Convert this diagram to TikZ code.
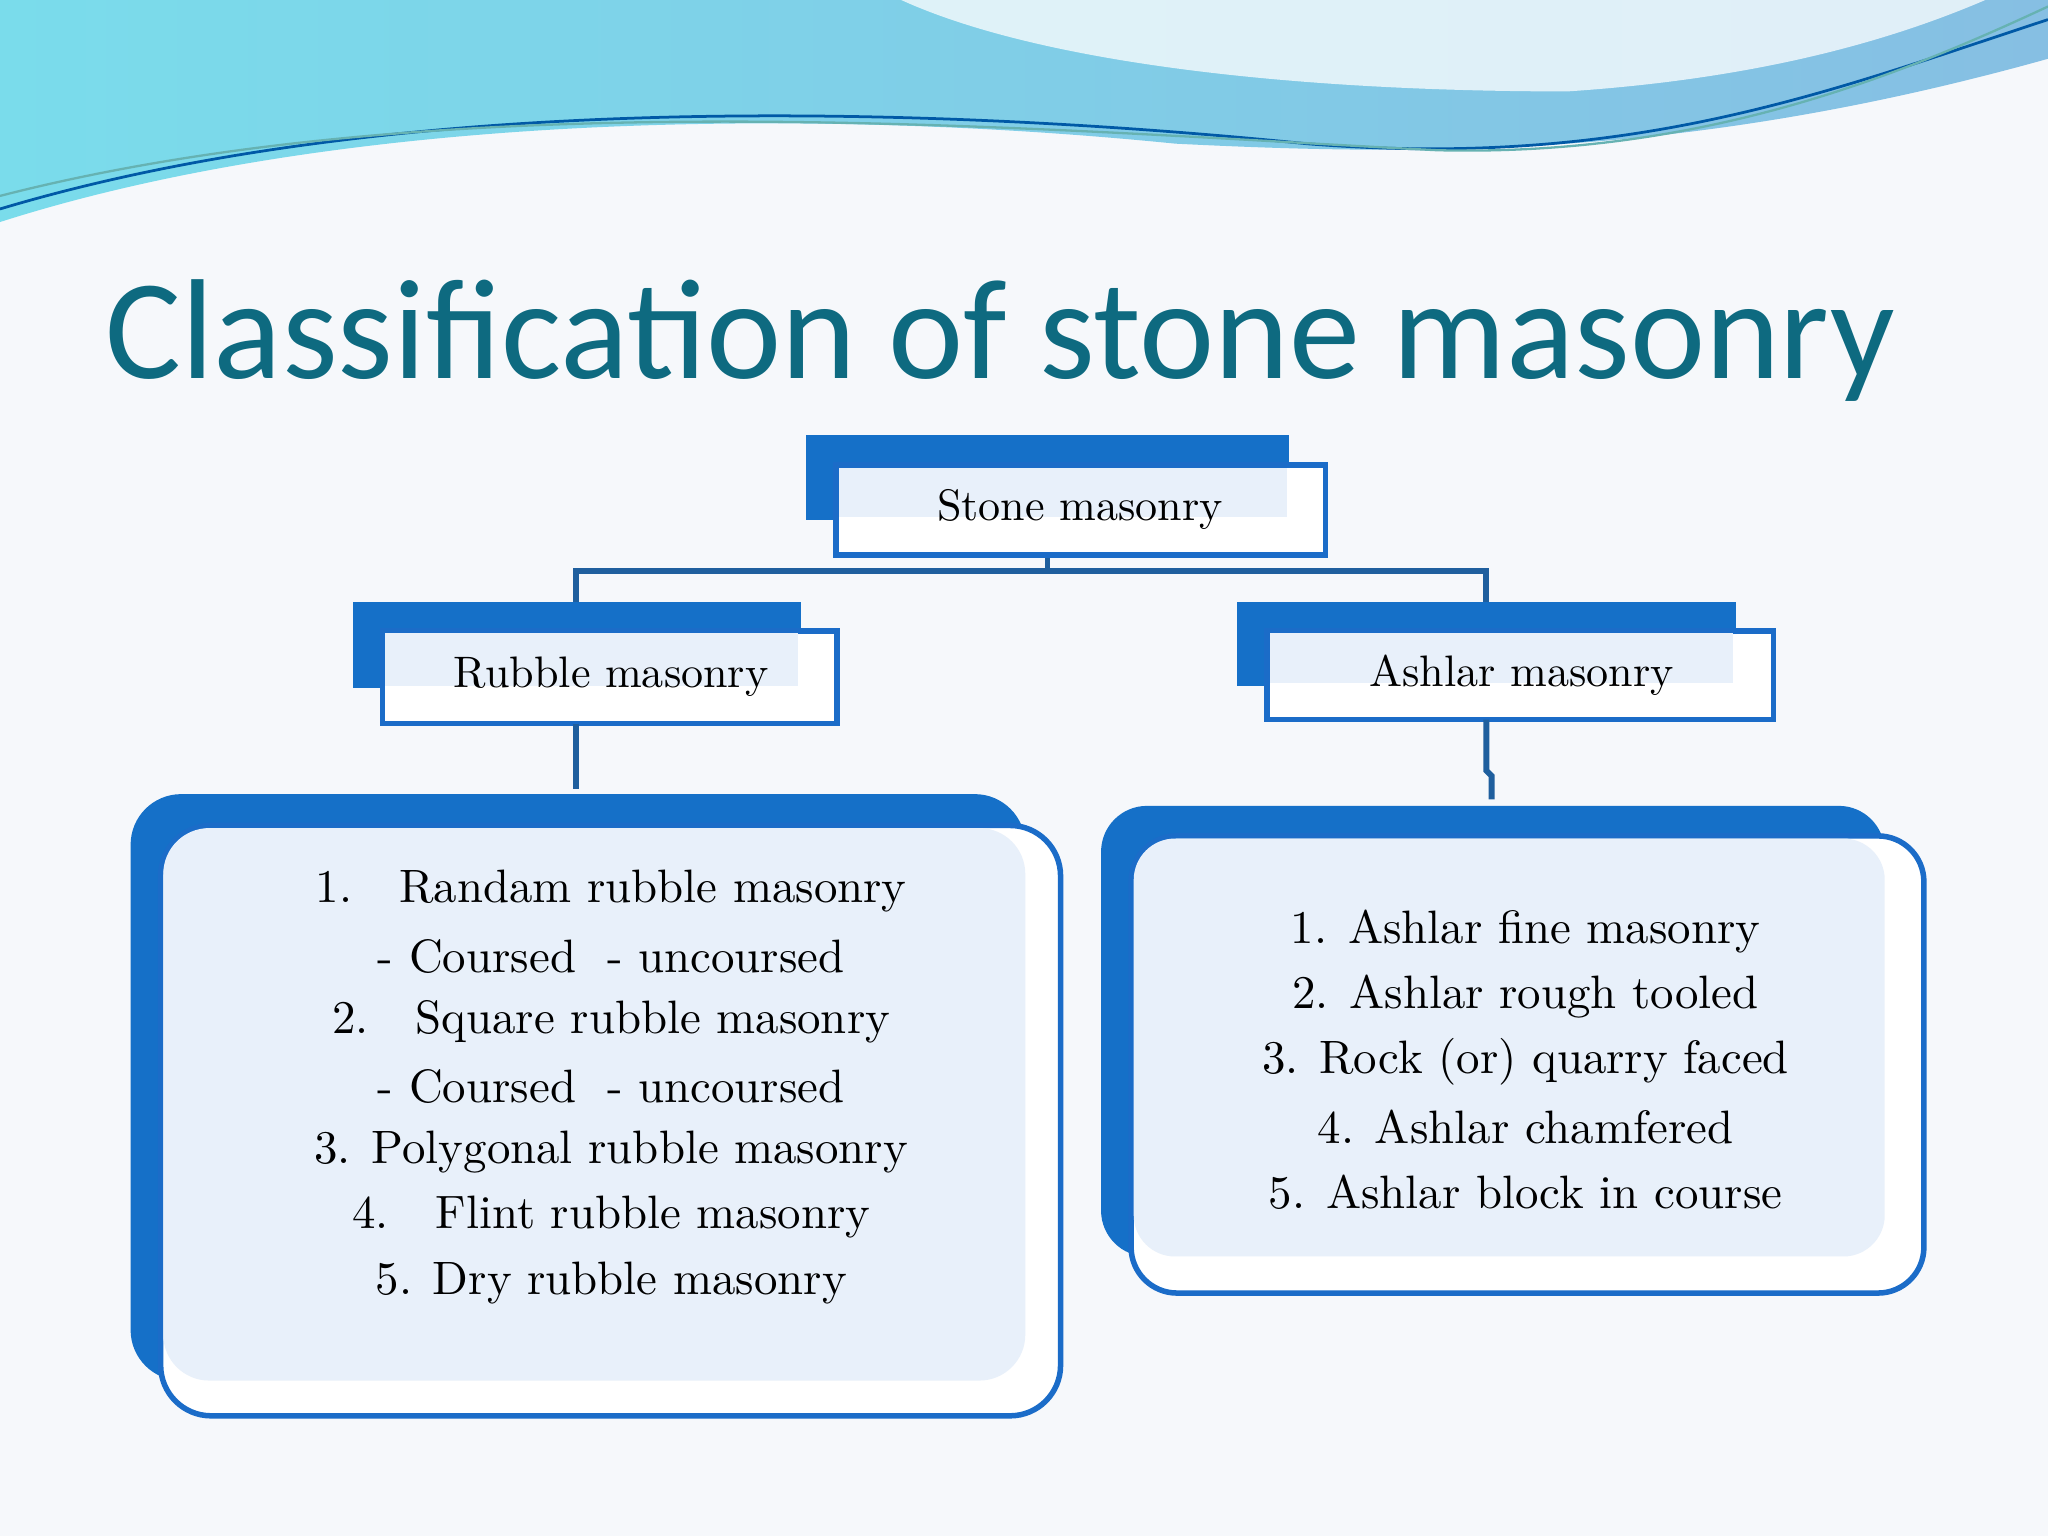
\documentclass[tikz,border=0pt]{standalone}
\usepackage{fontspec}
\newfontfamily\titlefont{Carlito}
\begin{document}
\begin{tikzpicture}[x=0.01cm,y=-0.01cm,
  dk/.style={fill=dblue,draw=none},
  fr/.style={draw=mblue,line width=1.2pt,fill=white},
  lt/.style={fill=lblue,draw=none},
  conn/.style={draw=cblue,line width=1.3pt},
  txt/.style={font=\fontsize{9.6}{11}\selectfont,text=black},
  btxt/.style={txt,font=\fontsize{10.2}{12}\selectfont}]
\definecolor{dblue}{HTML}{1570C8}
\definecolor{mblue}{HTML}{1B6CC8}
\definecolor{lblue}{HTML}{E8F0FA}
\definecolor{cblue}{HTML}{1F5F9E}
\definecolor{teal1}{HTML}{0E6A80}
\definecolor{bg}{HTML}{F6F8FB}
\definecolor{wv1}{HTML}{7ADCEB}
\definecolor{wv2}{HTML}{86BFE3}
\useasboundingbox (0,0) rectangle (1568,1176);
\fill[bg] (0,0) rectangle (1568,1176);
% wave
\shade[left color=wv1,right color=wv2]
  (0,0) -- (1568,0) -- (1568,45) .. controls (1300,120) and (1100,120) .. (900,110)
  .. controls (600,80) and (250,90) .. (0,170) -- cycle;
\fill[white,opacity=0.75] (690,0) .. controls (800,50) and (1000,70) .. (1200,70)
  .. controls (1350,60) and (1450,30) .. (1520,0) -- cycle;
\draw[teal!70!blue,line width=0.6pt] (0,160) .. controls (300,70) and (700,80) .. (1000,110)
  .. controls (1250,130) and (1400,70) .. (1568,15);
\draw[teal!60,line width=0.5pt] (0,150) .. controls (350,60) and (800,100) .. (1100,115)
  .. controls (1300,120) and (1450,60) .. (1568,5);
% title
\node[anchor=base west,inner sep=0,text=teal1,font=\titlefont\fontsize{31}{34}\selectfont] (title) at (80,290) {Classification of stone masonry};
% connectors
\coordinate (c0) at (802,425);
\coordinate (c1) at (802,437);
\coordinate (l1) at (441,437);
\coordinate (r1) at (1138,437);
\coordinate (l2) at (441,462);
\coordinate (r2) at (1138,462);
\draw[conn] (c0) -- (c1) (l2) -- (l1) -- (r1) -- (r2);
% stone masonry
\fill[dk] (617,333) rectangle (987,398);
\draw[fr] (640,356) rectangle (1015,425);
\fill[lt] (642,358) rectangle (985,396);
\node[txt] (stone) at (827,390) {Stone masonry};
% rubble
\fill[dk] (270,461) rectangle (613,527);
\draw[fr] (293,483) rectangle (641,554);
\fill[lt] (295,485) rectangle (611,525);
\node[txt] (rubble) at (468,518) {Rubble masonry};
% ashlar
\fill[dk] (947,461) rectangle (1329,525);
\draw[fr] (970,483) rectangle (1358,551);
\fill[lt] (972,485) rectangle (1327,523);
\node[txt] (ashlar) at (1165,517) {Ashlar masonry};
% connectors down
\coordinate (lb) at (441,604);
\coordinate (ra) at (1138,590);
\coordinate (rb) at (1142,594);
\coordinate (rc) at (1142,612);
\draw[conn] (441,554) -- (lb);
\draw[conn] (1138,551) -- (ra) -- (rb) -- (rc);
% left big
\fill[dk,rounded corners=11pt] (100,608) rectangle (785,1057);
\draw[fr,rounded corners=11pt] (123,632) rectangle (812,1084);
\fill[lt,rounded corners=10pt] (125,634) rectangle (785,1057);
\foreach \t [count=\i from 0] in {1.\quad Randam rubble masonry,- Coursed\ \ - uncoursed,2.\quad Square rubble masonry,- Coursed\ \ - uncoursed,3. Polygonal rubble masonry,4.\quad Flint rubble masonry,5. Dry rubble masonry}
  \node[btxt] (L\i) at (468,{682+50*\i}) {\t};
% right big
\fill[dk,rounded corners=10pt] (843,617) rectangle (1443,962);
\draw[fr,rounded corners=10pt] (866,640) rectangle (1473,990);
\fill[lt,rounded corners=9pt] (868,642) rectangle (1443,962);
\foreach \t [count=\i from 0] in {1. Ashlar fine masonry,2. Ashlar rough tooled,3. Rock (or) quarry faced,4. Ashlar chamfered,5. Ashlar block in course}
  \node[btxt] (R\i) at (1168,{713+50*\i}) {\t};
\end{tikzpicture}
\end{document}
